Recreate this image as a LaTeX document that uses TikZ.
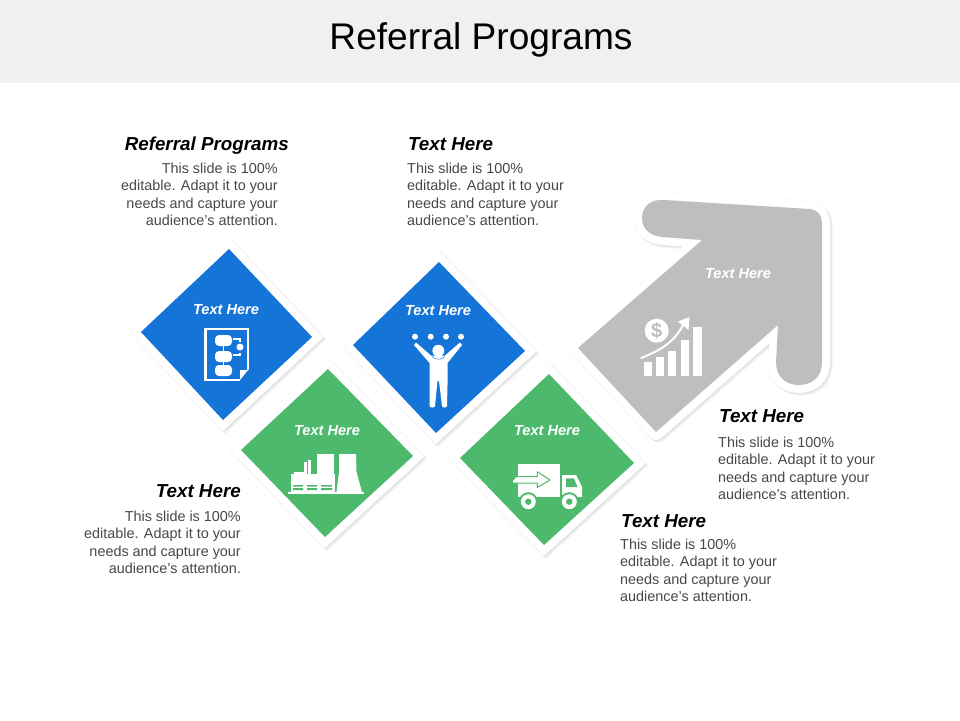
\documentclass[tikz,border=0pt]{standalone}
\usepackage{fontspec}
\setmainfont{Liberation Sans}
\definecolor{hdr}{HTML}{F0F0F0}
\definecolor{bluec}{HTML}{1474D8}
\definecolor{greenc}{HTML}{4DB96C}
\definecolor{grayc}{HTML}{BEBEBE}
\definecolor{bodyc}{HTML}{484848}
\tikzset{
  plateshadow/.style={line width=#1,draw=black,draw opacity=.018,fill=black,fill opacity=.018},
  headtext/.style={inner sep=0pt,font=\fontsize{18.8}{22}\selectfont\bfseries\itshape,text=black},
  bodytext/.style={inner sep=0pt,font=\fontsize{14.4}{17.6}\selectfont,text=bodyc},
  lbl/.style={inner sep=0pt,font=\fontsize{14.6}{17}\selectfont\bfseries\itshape,text=white},
  iline/.style={draw=white,line width=1.3pt},
}
\newcommand{\plate}[3]{%
  \foreach \o/\w in {0/17,1/18,2/17,3/16.5,4/16,5/16}{
    \path[plateshadow=\w pt,line join=#3,xshift=\o*0.6pt,yshift=-\o*0.6pt] #1;}
  \path[draw=white,fill=white,line width=16pt,line join=#3] #1;
  \path[fill=#2] #1;
}
\begin{document}
\begin{tikzpicture}[x=1pt,y=-1pt]
\useasboundingbox (0,0) rectangle (960,720);
\fill[white] (0,0) rectangle (960,720);
\fill[hdr] (0,0) rectangle (960,83);
\node[inner sep=0pt,font=\fontsize{37.1}{40}\selectfont,text=black] (title) at (481,39.5) {Referral Programs};

% plates
\plate{(229,249) -- (312,337) -- (223,420) -- (141,332) -- cycle}{bluec}{miter}
\plate{(439,262) -- (525,351) -- (436,433) -- (353,345) -- cycle}{bluec}{miter}
\plate{(328,369) -- (413,456) -- (325,537) -- (241,450) -- cycle}{greenc}{miter}
\plate{(549,374) -- (634,463) -- (544,545) -- (460,458) -- cycle}{greenc}{miter}
\plate{(578,348) -- (702,240) -- (662,237) .. controls (650,236) and (642,229) .. (642,218)
   .. controls (642,207) and (650,199) .. (664,200) -- (810,209)
   .. controls (818,210) and (822,215) .. (822,225) -- (822,362)
   .. controls (822,377) and (812,385) .. (799,385) .. controls (786,385) and (776,377) .. (776,362)
   -- (778,325) -- (656,432) -- cycle}{grayc}{round}

% icon: document flow
\draw[white,line width=2.2pt] (240,380) -- (205.5,380) -- (205.5,329) -- (248,329) -- (248,370);
\fill[white] (240,380) -- (248,370) -- (240,370) -- cycle;
\fill[white,rounded corners=4pt] (215,335) rectangle (232,346);
\fill[white,rounded corners=4pt] (215,351) rectangle (232,362);
\fill[white,rounded corners=4pt] (215,365) rectangle (232,376);
\draw[iline] (223.5,346) -- (223.5,365);
\draw[iline] (233,339) -- (240,339) -- (240,342);
\draw[iline] (233,355) -- (240,355) -- (240,352.5);
\fill[white] (240,347) circle (3.5);

% icon: person
\fill[white] (438.3,350.7) circle (5.8);
\foreach \x in {415,430.7,446,461}{\fill[white] (\x,336.7) circle (3);}
\fill[white,line join=round] (414,345) -- (416,342.5) -- (431,355.5) -- (445,355.5) -- (460,342.5) -- (462,345)
   -- (447.5,363) -- (447.5,385) -- (447,406) .. controls (447,408) and (442,408) .. (442,406) -- (439,381) -- (437.5,381)
   -- (435,406) .. controls (435,408) and (429.5,408) .. (429.5,406) -- (429.5,385) -- (429.5,363) -- cycle;
\fill[white] (438.3,350.7) circle (5.8);
\draw[bluec,line width=.5pt] (432,356.4) arc[start angle=140,end angle=40,radius=8.2] ;

% icon: factory
\fill[white] (288,492) rectangle (364,494);
\fill[white] (291,474) rectangle (335,492);
\fill[white] (294,471.7) rectangle (303.5,474);
\fill[white] (304.3,462) rectangle (306.7,474);
\fill[white] (307.7,460) rectangle (310.7,474);
\fill[white] (316.7,454) -- (334,454) -- (334,474) -- (316.7,474) -- cycle;
\fill[white] (339,454) -- (356,454) -- (356.5,472) -- (362,492) -- (336.5,492) -- (339,472) -- cycle;
\fill[greenc] (293,485) rectangle (303,486.5) (307,485) rectangle (317,486.5) (321,485) rectangle (332,486.5);
\fill[greenc] (293,488) rectangle (303,490) (307,488) rectangle (317,490) (321,488) rectangle (332,490);

% icon: truck
\fill[white] (517.7,464.3) rectangle (560,497);
\fill[white] (562,475) -- (576,475) -- (582,487) -- (582,497) -- (562,497) -- cycle;
\fill[greenc] (566,478.3) -- (574,478.3) -- (577.5,487) -- (566,487) -- cycle;
\fill[white,draw=greenc,line width=1pt,line join=round] (511.7,481.5) -- (516,476.7) -- (537.3,476.7) -- (537.3,471.7) -- (550,480)
   -- (537.3,487.5) -- (537.3,483) -- (513.5,483) -- cycle;
\fill[greenc] (528.3,501.7) circle (9.5) (569.3,501.7) circle (9.5);
\fill[white] (528.3,501.7) circle (7.5) (569.3,501.7) circle (7.5);
\fill[greenc] (528.3,501.7) circle (3.2) (569.3,501.7) circle (3.2);

% icon: chart
\foreach \x/\t in {644/361.7,656/356.7,667.7/350.7,681/340,693.3/326.7}{
  \fill[white] (\x,\t) rectangle (\x+8.3,375.7);}
\fill[white] (656.7,330.7) circle (12);
\node[inner sep=0pt,font=\fontsize{20}{20}\selectfont\bfseries,text=grayc] (dollar) at (656.7,330.7) {\$};
\draw[white,line width=2pt] (640.7,358.3) .. controls (655,352) and (672,346) .. (683,325);
\fill[white] (689.5,317) -- (678,321.5) -- (688.5,330) -- cycle;

% labels on shapes
\node[lbl] (l1) at (226,309.5) {Text Here};
\node[lbl] (l2) at (438,310.5) {Text Here};
\node[lbl] (l3) at (327,430.5) {Text Here};
\node[lbl] (l4) at (547,430.5) {Text Here};
\node[lbl] (l5) at (738,273.5) {Text Here};

% headings
\node[headtext,anchor=east] (h1) at (289,146) {Referral Programs};
\node[headtext,anchor=west] (h2) at (408,144.5) {Text Here};
\node[headtext,anchor=west] (h3) at (719,416.5) {Text Here};
\node[headtext,anchor=west] (h4) at (621,521.5) {Text Here};
\node[headtext,anchor=east] (h5) at (241,491.5) {Text Here};

% bodies
\node[bodytext,align=right,anchor=north east] (b1) at (278,162.5) {This slide is 100\%\\editable. Adapt it to your\\needs and capture your\\audience's attention.};
\node[bodytext,align=left,anchor=north west] (b2) at (407,162.5) {This slide is 100\%\\editable. Adapt it to your\\needs and capture your\\audience's attention.};
\node[bodytext,align=left,anchor=north west] (b3) at (718,436.5) {This slide is 100\%\\editable. Adapt it to your\\needs and capture your\\audience's attention.};
\node[bodytext,align=left,anchor=north west] (b4) at (620,538.5) {This slide is 100\%\\editable. Adapt it to your\\needs and capture your\\audience's attention.};
\node[bodytext,align=right,anchor=north east] (b5) at (241,510.5) {This slide is 100\%\\editable. Adapt it to your\\needs and capture your\\audience's attention.};
\end{tikzpicture}
\end{document}
